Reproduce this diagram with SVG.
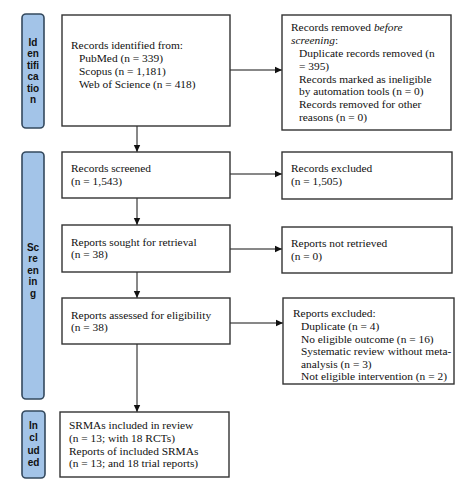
<svg xmlns="http://www.w3.org/2000/svg" width="474" height="484" viewBox="0 0 474 484">
<defs>
<style>
.box{fill:#fff;stroke:#333;stroke-width:1.4}
.bar{fill:#a3c4e8;stroke:#34495e;stroke-width:1.6}
.t{font-family:"Liberation Serif","Times New Roman",serif;font-size:11.4px;fill:#111}
.s{font-family:"Liberation Sans",Arial,sans-serif;font-size:10px;font-weight:bold;fill:#111;text-anchor:middle}
.c{stroke:#111;stroke-width:1;fill:none}
</style>
<marker id="ah" markerWidth="8" markerHeight="8" refX="7" refY="4" orient="auto" markerUnits="userSpaceOnUse">
<path d="M0,0.8 L7,4 L0,7.2 Z" fill="#111"/>
</marker>
</defs>
<rect width="474" height="484" fill="#fff"/>

<g id="bar-identification">
<rect class="bar" x="22" y="14" width="22" height="114" rx="4"/>
<text class="s" x="33"><tspan x="33" y="45.5">Id</tspan><tspan x="33" y="57">en</tspan><tspan x="33" y="68.5">tifi</tspan><tspan x="33" y="80">ca</tspan><tspan x="33" y="91.5">tio</tspan><tspan x="33" y="103">n</tspan></text>
</g>
<g id="bar-screening">
<rect class="bar" x="22" y="152" width="22" height="247" rx="4"/>
<text class="s" x="33"><tspan x="33" y="250.5">Sc</tspan><tspan x="33" y="262">re</tspan><tspan x="33" y="273.5">en</tspan><tspan x="33" y="285">in</tspan><tspan x="33" y="296.5">g</tspan></text>
</g>
<g id="bar-included">
<rect class="bar" x="22" y="411" width="23" height="67" rx="4"/>
<text class="s" x="33.5"><tspan x="33.5" y="428.5">In</tspan><tspan x="33.5" y="441">cl</tspan><tspan x="33.5" y="453.5">ud</tspan><tspan x="33.5" y="466">ed</tspan></text>
</g>

<g id="connectors">
<line class="c" x1="137" y1="126" x2="137" y2="152" marker-end="url(#ah)"/>
<line class="c" x1="137" y1="198" x2="137" y2="225" marker-end="url(#ah)"/>
<line class="c" x1="137" y1="272" x2="137" y2="298" marker-end="url(#ah)"/>
<line class="c" x1="137" y1="344" x2="137" y2="412" marker-end="url(#ah)"/>
<line class="c" x1="230" y1="70" x2="282" y2="70" marker-end="url(#ah)"/>
<line class="c" x1="230" y1="174" x2="282" y2="174" marker-end="url(#ah)"/>
<line class="c" x1="230" y1="249" x2="282" y2="249" marker-end="url(#ah)"/>
<line class="c" x1="230" y1="323" x2="283" y2="323" marker-end="url(#ah)"/>
</g>

<g id="records-identified">
<rect class="box" x="62" y="15" width="168" height="111"/>
<text class="t"><tspan x="71" y="49">Records identified from:</tspan><tspan x="79" y="62">PubMed (n = 339)</tspan><tspan x="79" y="75">Scopus (n = 1,181)</tspan><tspan x="79" y="87.5">Web of Science (n = 418)</tspan></text>
</g>
<g id="records-removed">
<rect class="box" x="282" y="15" width="169" height="115"/>
<text class="t"><tspan x="291" y="31">Records removed <tspan font-style="italic">before</tspan></tspan><tspan x="291" y="44" font-style="italic">screening</tspan><tspan>:</tspan><tspan x="299" y="57">Duplicate records removed (n</tspan><tspan x="299" y="69.5">= 395)</tspan><tspan x="299" y="82.5">Records marked as ineligible</tspan><tspan x="299" y="95">by automation tools (n = 0)</tspan><tspan x="299" y="108">Records removed for other</tspan><tspan x="299" y="121">reasons (n = 0)</tspan></text>
</g>
<g id="records-screened">
<rect class="box" x="62" y="152" width="168" height="46"/>
<text class="t"><tspan x="71" y="172">Records screened</tspan><tspan x="71" y="185">(n = 1,543)</tspan></text>
</g>
<g id="records-excluded">
<rect class="box" x="282" y="152" width="170" height="47"/>
<text class="t"><tspan x="291" y="172">Records excluded</tspan><tspan x="291" y="185">(n = 1,505)</tspan></text>
</g>
<g id="reports-sought">
<rect class="box" x="62" y="225" width="168" height="47"/>
<text class="t"><tspan x="71" y="245.5">Reports sought for retrieval</tspan><tspan x="71" y="258">(n = 38)</tspan></text>
</g>
<g id="reports-not-retrieved">
<rect class="box" x="282" y="227" width="170" height="46"/>
<text class="t"><tspan x="291" y="247">Reports not retrieved</tspan><tspan x="291" y="260">(n = 0)</tspan></text>
</g>
<g id="reports-assessed">
<rect class="box" x="62" y="298" width="168" height="46"/>
<text class="t"><tspan x="71" y="318.5">Reports assessed for eligibility</tspan><tspan x="71" y="331">(n = 38)</tspan></text>
</g>
<g id="reports-excluded">
<rect class="box" x="283" y="298" width="171" height="86"/>
<text class="t"><tspan x="293" y="317">Reports excluded:</tspan><tspan x="301" y="330">Duplicate (n = 4)</tspan><tspan x="301" y="342.5">No eligible outcome (n = 16)</tspan><tspan x="301" y="355">Systematic review without meta-</tspan><tspan x="301" y="367.5">analysis (n = 3)</tspan><tspan x="301" y="380">Not eligible intervention (n = 2)</tspan></text>
</g>
<g id="included">
<rect class="box" x="60" y="412" width="169" height="65"/>
<text class="t"><tspan x="69" y="429">SRMAs included in review</tspan><tspan x="69" y="441.5">(n = 13; with 18 RCTs)</tspan><tspan x="69" y="454.5">Reports of included SRMAs</tspan><tspan x="69" y="467">(n = 13; and 18 trial reports)</tspan></text>
</g>
</svg>
